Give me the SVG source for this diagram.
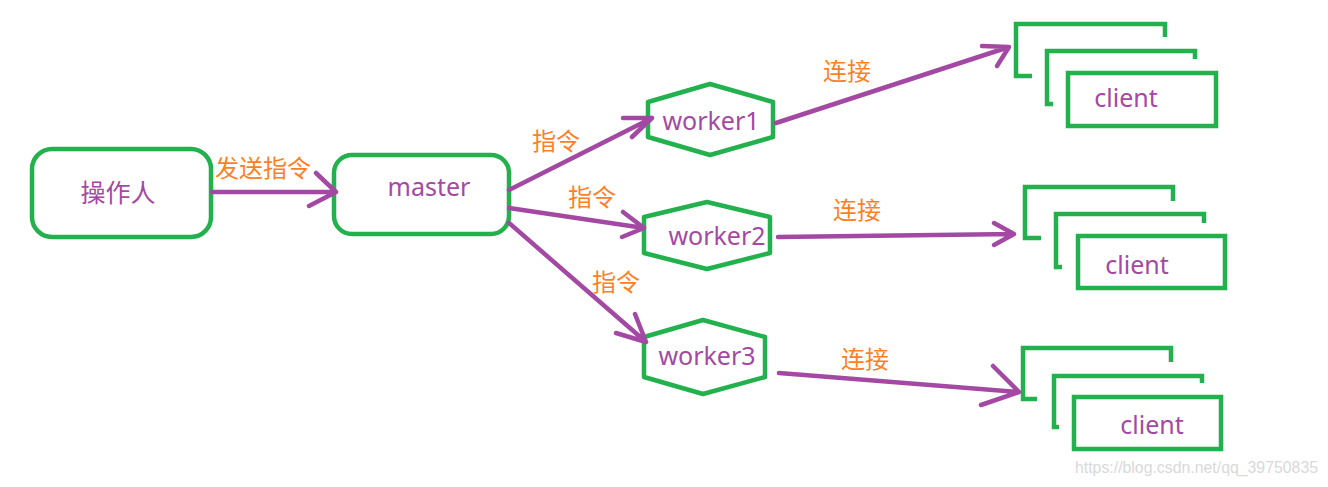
<svg xmlns="http://www.w3.org/2000/svg" width="1328" height="487" viewBox="0 0 1328 487">
<style>
.box{fill:none;stroke:#22b14c;stroke-width:4.5;stroke-linejoin:round}
.brk{fill:none;stroke:#22b14c;stroke-width:4.5;stroke-linejoin:miter}
.ln{fill:none;stroke:#a349a4;stroke-width:4.5;stroke-linecap:round;stroke-linejoin:round}
.t{font-family:"Noto Sans","Noto Sans CJK SC",sans-serif;font-size:25px;fill:#a349a4;text-anchor:middle}
.c{font-family:"Noto Sans CJK SC","Noto Sans",sans-serif;font-size:25px;fill:#a349a4;text-anchor:middle}
.lb{font-family:"Noto Sans CJK SC",sans-serif;font-size:24px;fill:#ff7f27}
</style>
<rect width="1328" height="487" fill="#ffffff"/>
<g id="operator">
<rect class="box" x="32" y="149" width="179" height="88" rx="20"/>
<text class="c" x="118" y="202">操作人</text>
</g>
<g id="master">
<rect class="box" x="334" y="155" width="175" height="79" rx="18"/>
<text class="t" x="429" y="196">master</text>
</g>
<g id="worker1">
<polygon class="box" points="648,102 710,84 773,102 773,137 710,155 648,137"/>
<text class="t" x="711" y="130">worker1</text>
</g>
<g id="worker2">
<polygon class="box" points="644,217 707,202 770,217 770,253 707,269 644,253"/>
<text class="t" x="717" y="245">worker2</text>
</g>
<g id="worker3">
<polygon class="box" points="644,337 703,320 765,337 765,377 703,394 644,377"/>
<text class="t" x="707" y="365">worker3</text>
</g>
<g id="client1">
<polyline class="brk" points="1032,76 1016,76 1016,24 1165,24 1165,37"/>
<polyline class="brk" points="1053,104 1047,104 1047,51 1195,51 1195,59"/>
<rect class="brk" x="1068" y="73" width="148" height="53"/>
<text class="t" x="1126" y="107">client</text>
</g>
<g id="client2">
<polyline class="brk" points="1041,238 1025,238 1025,187 1173,187 1173,201"/>
<polyline class="brk" points="1062,267 1056,267 1056,214 1204,214 1204,223"/>
<rect class="brk" x="1078" y="236" width="147" height="52"/>
<text class="t" x="1137" y="274">client</text>
</g>
<g id="client3">
<polyline class="brk" points="1037,399 1023,399 1023,348 1171,348 1171,362"/>
<polyline class="brk" points="1059,427 1054,427 1054,376 1202,376 1202,383"/>
<rect class="brk" x="1074" y="397" width="147" height="52"/>
<text class="t" x="1152" y="434">client</text>
</g>
<g id="connectors">
<path class="ln" d="M212,192 L336,192 M316,173 L336,192 L309,206"/>
<path class="ln" d="M509,190 L652,118 M623,118 L652,118 L632,137"/>
<path class="ln" d="M509,208 L644,228 M623,212 L644,228 L622,237"/>
<path class="ln" d="M509,223 L646,342 M635,314 L646,342 L616,333"/>
<path class="ln" d="M776,123 L1009,47 M982,46 L1009,47 L997,66"/>
<path class="ln" d="M778,237 L1014,234 M994,223 L1014,234 L994,245"/>
<path class="ln" d="M779,373 L1019,392 M993,366 L1019,392 L981,405"/>
</g>
<g id="labels">
<text class="lb" x="215" y="177">发送指令</text>
<text class="lb" x="532" y="150">指令</text>
<text class="lb" x="568" y="206">指令</text>
<text class="lb" x="592" y="291">指令</text>
<text class="lb" x="823" y="80">连接</text>
<text class="lb" x="833" y="219">连接</text>
<text class="lb" x="841" y="368">连接</text>
</g>
<text x="1075" y="473" font-family="Liberation Sans, Arial, sans-serif" font-size="16" fill="#d9d9d9" textLength="243" lengthAdjust="spacingAndGlyphs">https://blog.csdn.net/qq_39750835</text>
</svg>
